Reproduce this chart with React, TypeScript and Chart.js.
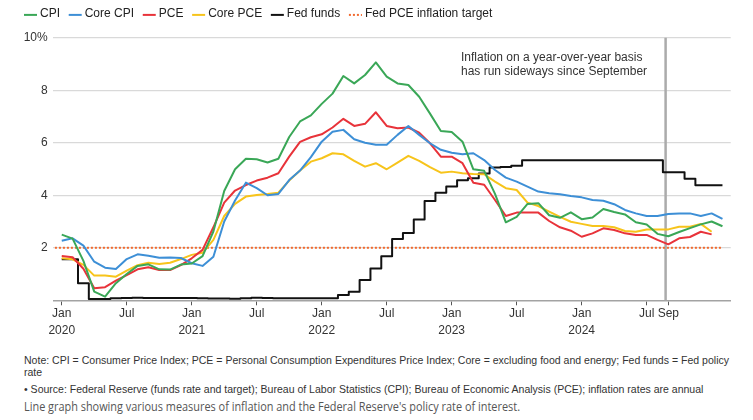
import React, { useEffect, useRef } from 'react';
import { Chart, registerables } from 'chart.js';

Chart.register(...registerables);

// Months since Jan 2020 (0 = Jan 2020)
const cpi = [
  2.5, 2.35, 1.5, 0.33, 0.14, 0.65, 1.0, 1.31, 1.37, 1.18, 1.17, 1.36,
  1.4, 1.68, 2.62, 4.16, 4.99, 5.39, 5.37, 5.25, 5.39, 6.22, 6.81, 7.04,
  7.48, 7.87, 8.54, 8.26, 8.58, 9.06, 8.52, 8.26, 8.2, 7.75, 7.11, 6.45,
  6.41, 6.04, 4.99, 4.93, 4.05, 2.97, 3.18, 3.67, 3.7, 3.24, 3.14, 3.35,
  3.09, 3.15, 3.48, 3.36, 3.27, 2.97, 2.89, 2.53, 2.44, 2.6, 2.75, 2.89,
  3.0, 2.82,
];
const coreCpi = [
  2.27, 2.36, 2.08, 1.47, 1.24, 1.19, 1.57, 1.75, 1.7, 1.62, 1.63, 1.61,
  1.41, 1.31, 1.66, 3.0, 3.8, 4.48, 4.27, 4.0, 4.05, 4.58, 4.94, 5.45,
  6.04, 6.42, 6.49, 6.13, 6.0, 5.92, 5.92, 6.3, 6.64, 6.3, 5.98, 5.73,
  5.62, 5.56, 5.6, 5.34, 4.96, 4.67, 4.52, 4.33, 4.14, 4.08, 4.04, 3.97,
  3.92, 3.82, 3.79, 3.66, 3.44, 3.31, 3.21, 3.21, 3.29, 3.31, 3.31, 3.21,
  3.31, 3.1,
];
const pce = [
  1.69, 1.64, 1.2, 0.46, 0.5, 0.75, 0.96, 1.18, 1.26, 1.15, 1.15, 1.34,
  1.6, 1.92, 2.78, 3.72, 4.18, 4.39, 4.56, 4.67, 4.84, 5.47, 6.03, 6.21,
  6.32, 6.58, 6.91, 6.64, 6.72, 7.16, 6.64, 6.55, 6.58, 6.38, 5.98, 5.47,
  5.47, 5.22, 4.48, 4.4, 3.82, 3.21, 3.34, 3.34, 3.34, 3.02, 2.78, 2.65,
  2.42, 2.55, 2.74, 2.68, 2.55, 2.49, 2.49, 2.3, 2.13, 2.36, 2.41, 2.61,
  2.51,
];
const corePce = [
  1.6, 1.56, 1.35, 0.94, 0.94, 0.9, 1.13, 1.34, 1.43, 1.38, 1.43, 1.57,
  1.73, 1.81, 2.3, 3.21, 3.67, 3.95, 4.01, 4.05, 4.1, 4.56, 4.94, 5.28,
  5.41, 5.6, 5.56, 5.31, 5.09, 5.22, 4.99, 5.24, 5.5, 5.31, 5.07, 4.86,
  4.9, 4.84, 4.81, 4.8, 4.52, 4.27, 4.2, 3.72, 3.59, 3.38, 3.18, 2.99,
  2.91, 2.83, 2.83, 2.78, 2.64, 2.61, 2.7, 2.7, 2.7, 2.8, 2.8, 2.91,
  2.61,
];
const fedFunds = [
  1.56, 1.56, 0.65, 0.05, 0.05, 0.08, 0.09, 0.1, 0.09, 0.09, 0.09, 0.09,
  0.09, 0.08, 0.07, 0.07, 0.06, 0.08, 0.1, 0.09, 0.08, 0.08, 0.08, 0.08,
  0.08, 0.08, 0.2, 0.33, 0.77, 1.21, 1.68, 2.33, 2.56, 3.08, 3.78, 4.1,
  4.33, 4.57, 4.65, 4.83, 5.06, 5.08, 5.12, 5.33, 5.33, 5.33, 5.33, 5.33,
  5.33, 5.33, 5.33, 5.33, 5.33, 5.33, 5.33, 5.33, 4.88, 4.88, 4.63, 4.38,
  4.38, 4.38,
];
const targetMonths = [-1, 61];
const targetValues = [2, 2];

const seriesNames = ['CPI', 'Core CPI', 'PCE', 'Core PCE', 'Fed funds', 'Fed PCE inflation target'];
const seriesColors = ['#3aa757', '#3d8fd6', '#e8333a', '#f7c41b', '#111111', '#f26a2e'];

const xTickMonths = [0, 6, 12, 18, 24, 30, 36, 42, 48, 54, 56];
const xTickLabels: (string | string[])[] = [
  ['Jan', '2020'], 'Jul', ['Jan', '2021'], 'Jul', ['Jan', '2022'], 'Jul',
  ['Jan', '2023'], 'Jul', ['Jan', '2024'], 'Jul', 'Sep',
];
const yTicks = [0, 2, 4, 6, 8, 10];
const yTickLabels = ['', '2', '4', '6', '8', '10%'];

const annotationLines = ['Inflation on a year-over-year basis', 'has run sideways since September'];
const annotationAt = { month: 36.86, value: 9.25 };
const policyMarkerMonth = 55.75;

const noteLines = [
  'Note: CPI = Consumer Price Index; PCE = Personal Consumption Expenditures Price Index; Core = excluding food and energy; Fed funds = Fed policy',
  'rate',
  '• Source: Federal Reserve (funds rate and target); Bureau of Labor Statistics (CPI); Bureau of Economic Analysis (PCE); inflation rates are annual',
];
const captionLine = "Line graph showing various measures of inflation and the Federal Reserve's policy rate of interest.";

const FONT = '"Liberation Sans", Arial, Helvetica, sans-serif';

const toPoints = (arr: number[]) => arr.map((v, i) => ({ x: i, y: v }));

const legendPlugin = {
  id: 'topLegend',
  afterDraw(chart: any) {
    const ctx = chart.ctx;
    ctx.save();
    ctx.font = `12px ${FONT}`;
    ctx.textBaseline = 'middle';
    let x = 16;
    const yText = 5.4;
    const yLine = 6.9;
    chart.data.datasets.forEach((ds: any) => {
      ctx.strokeStyle = ds.borderColor;
      ctx.lineWidth = 2;
      ctx.setLineDash(ds.borderDash || []);
      ctx.beginPath();
      ctx.moveTo(x, yLine);
      ctx.lineTo(x + 13, yLine);
      ctx.stroke();
      ctx.setLineDash([]);
      ctx.fillStyle = '#222';
      ctx.textAlign = 'left';
      ctx.fillText(ds.label, x + 16, yText);
      x += 16 + ctx.measureText(ds.label).width + 8.7;
    });
    ctx.restore();
  },
};

const markerPlugin = {
  id: 'policyMarker',
  beforeDatasetsDraw(chart: any) {
    const { ctx, chartArea, scales } = chart;
    const x = scales.x.getPixelForValue(policyMarkerMonth);
    ctx.save();
    ctx.strokeStyle = '#ababab';
    ctx.lineWidth = 2.5;
    ctx.beginPath();
    ctx.moveTo(x, chartArea.top);
    ctx.lineTo(x, chartArea.bottom);
    ctx.stroke();
    ctx.restore();
  },
  afterDatasetsDraw(chart: any) {
    const { ctx, scales } = chart;
    const x = scales.x.getPixelForValue(annotationAt.month);
    const y = scales.y.getPixelForValue(annotationAt.value);
    ctx.save();
    ctx.font = `12px ${FONT}`;
    ctx.fillStyle = '#333';
    ctx.textAlign = 'left';
    ctx.textBaseline = 'middle';
    annotationLines.forEach((t, i) => ctx.fillText(t, x, y + i * 14));
    ctx.restore();
  },
};

function measure(text: string, font: string) {
  const c = document.createElement('canvas').getContext('2d')!;
  c.font = font;
  return c.measureText(text).width;
}

export default function App() {
  const ref = useRef<HTMLCanvasElement | null>(null);

  useEffect(() => {
    if (!ref.current) return;
    const series = [cpi, coreCpi, pce, corePce, fedFunds];
    const datasets: any[] = series.map((s, i) => ({
      label: seriesNames[i],
      data: toPoints(s),
      borderColor: seriesColors[i],
      backgroundColor: seriesColors[i],
      borderWidth: 2,
      pointRadius: 0,
      tension: 0,
      fill: false,
      stepped: i === 4 ? 'middle' : false,
      borderJoinStyle: 'round',
    }));
    datasets.push({
      label: seriesNames[5],
      data: targetMonths.map((m, i) => ({ x: m, y: targetValues[i] })),
      borderColor: seriesColors[5],
      backgroundColor: seriesColors[5],
      borderWidth: 2,
      borderDash: [2, 2],
      pointRadius: 0,
      fill: false,
      order: 10,
    });

    const chart = new Chart(ref.current, {
      type: 'line',
      data: { datasets },
      options: {
        animation: false,
        responsive: false,
        maintainAspectRatio: false,
        layout: { padding: { top: 29.7, right: 14.3, bottom: 0, left: 0 } },
        plugins: { legend: { display: false }, tooltip: { enabled: false } },
        scales: {
          x: {
            type: 'linear',
            min: -0.78,
            max: 61.76,
            afterBuildTicks: (s: any) => {
              s.ticks = xTickMonths.map((v) => ({ value: v }));
            },
            afterFit: (s: any) => {
              s.height = 40.7;
            },
            ticks: {
              autoSkip: false,
              maxRotation: 0,
              minRotation: 0,
              padding: 0,
              color: '#333',
              font: { family: FONT, size: 12, lineHeight: 1.4 },
              callback: (v: any) => {
                const i = xTickMonths.indexOf(Number(v));
                return i >= 0 ? xTickLabels[i] : '';
              },
            },
            grid: { drawOnChartArea: false, drawTicks: true, tickLength: 5, tickColor: '#555', tickWidth: 1 },
            border: { display: true, color: '#a3a3a3', width: 1.5 },
          },
          y: {
            min: 0,
            max: 10,
            afterBuildTicks: (s: any) => {
              s.ticks = yTicks.map((v) => ({ value: v }));
            },
            afterFit: (s: any) => {
              s.width = 45.3;
            },
            ticks: {
              padding: 5.6,
              color: '#333',
              font: { family: FONT, size: 12 },
              callback: (v: any) => yTickLabels[yTicks.indexOf(Number(v))],
            },
            grid: {
              drawTicks: false,
              lineWidth: 1.2,
              color: (c: any) => (c.tick && c.tick.value === 0 ? 'rgba(0,0,0,0)' : '#d9d9d9'),
            },
            border: { display: false },
          },
        },
      },
      plugins: [markerPlugin, legendPlugin],
    } as any);
    return () => chart.destroy();
  }, []);

  const noteFont = `11px ${FONT}`;
  const noteScale = 705 / measure(noteLines[0], noteFont);
  const sourceScale = 680 / measure(noteLines[2], noteFont);
  const capFont = '12px "Open Sans", "Noto Sans", sans-serif';
  const capScale = 496 / measure(captionLine, capFont);

  const lineStyle = (top: number, scale: number, font: string, color: string, lh: number): React.CSSProperties => ({
    position: 'absolute',
    left: 16,
    top,
    font,
    lineHeight: `${lh}px`,
    color,
    whiteSpace: 'nowrap',
    transform: `scaleX(${scale})`,
    transformOrigin: 'left center',
  });

  return (
    <div style={{ position: 'relative', width: 737, height: 412 }}>
      <canvas ref={ref} width={737} height={333} style={{ display: 'block', width: 737, height: 333 }} />
      <div style={lineStyle(346, noteScale, noteFont, '#333', 12)}>{noteLines[0]}</div>
      <div style={lineStyle(358, noteScale, noteFont, '#333', 12)}>{noteLines[1]}</div>
      <div style={lineStyle(375, sourceScale, noteFont, '#333', 12)}>{noteLines[2]}</div>
      <div style={lineStyle(392, capScale, capFont, '#555', 14)}>{captionLine}</div>
    </div>
  );
}
